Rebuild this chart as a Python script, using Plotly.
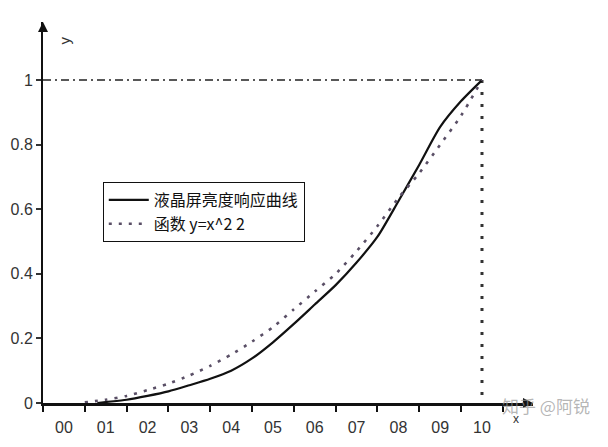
import plotly.graph_objects as go

# ---- data ----
lcd_x = [0.08, 0.10, 0.15, 0.20, 0.25, 0.30, 0.35, 0.40, 0.45, 0.50, 0.55,
         0.60, 0.65, 0.70, 0.75, 0.80, 0.85, 0.90, 0.95, 1.00]
lcd_y = [0.000, 0.003, 0.010, 0.022, 0.036, 0.055, 0.075, 0.100, 0.138, 0.188,
         0.245, 0.305, 0.365, 0.435, 0.515, 0.625, 0.738, 0.855, 0.935, 1.000]

func_x = [0.05, 0.10, 0.15, 0.20, 0.25, 0.30, 0.35, 0.40, 0.45, 0.50, 0.55,
          0.60, 0.65, 0.70, 0.75, 0.80, 0.85, 0.90, 0.95, 1.00]
func_y = [0.002, 0.010, 0.022, 0.040, 0.060, 0.085, 0.115, 0.150, 0.190, 0.235,
          0.290, 0.345, 0.400, 0.470, 0.548, 0.635, 0.712, 0.800, 0.890, 1.000]

x_tick_vals = [0.0, 0.1, 0.2, 0.3, 0.4, 0.5, 0.6, 0.7, 0.8, 0.9, 1.0]
x_tick_text = ["00", "01", "02", "03", "04", "05", "06", "07", "08", "09", "10"]
x_tick_marks = [-0.05, 0.05, 0.15, 0.25, 0.35, 0.45, 0.55, 0.65, 0.75, 0.85, 0.95, 1.05]
y_tick_vals = [0, 0.2, 0.4, 0.6, 0.8, 1.0]
y_tick_text = ["0", "0.2", "0.4", "0.6", "0.8", "1"]

ref_x = 1.0
ref_y = 1.0
x_range = [-0.05, 1.122]
y_range = [0, 1.18]

series_names = ["液晶屏亮度响应曲线", "函数 y=x^2 2"]

fig = go.Figure()

# reference lines
fig.add_trace(go.Scatter(x=[x_range[0], ref_x], y=[ref_y, ref_y], mode="lines",
                         line=dict(color="#222222", width=1.5, dash="8px,4px,2px,4px"),
                         showlegend=False, hoverinfo="skip"))
fig.add_trace(go.Scatter(x=[ref_x, ref_x], y=[ref_y, 0], mode="lines",
                         line=dict(color="#333333", width=3, dash="3px,9px"),
                         showlegend=False, hoverinfo="skip"))

fig.add_trace(go.Scatter(x=lcd_x, y=lcd_y, mode="lines", name=series_names[0],
                         line=dict(color="#111111", width=2.2, shape="spline", smoothing=0.7)))
fig.add_trace(go.Scatter(x=func_x, y=func_y, mode="lines", name=series_names[1],
                         line=dict(color="#5a4f66", width=2.6, dash="3px,7px",
                                   shape="spline", smoothing=0.6)))

fig.update_layout(
    width=608, height=447,
    margin=dict(l=43, r=75, t=22, b=44),
    paper_bgcolor="white", plot_bgcolor="white",
    font=dict(family="Liberation Sans, Arial, sans-serif", color="#333333"),
    showlegend=True,
    legend=dict(x=0.122, y=0.58, xanchor="left", yanchor="top",
                bgcolor="white", bordercolor="#111111", borderwidth=1,
                font=dict(family="Noto Sans CJK SC, sans-serif", size=16, color="#111111"),
                tracegroupgap=0, itemwidth=40),
    xaxis=dict(range=x_range, showgrid=False, zeroline=False, automargin=False,
               showline=True, linecolor="#111111", linewidth=3,
               tickmode="array", tickvals=x_tick_vals, ticktext=x_tick_text,
               ticks="", ticklabelstandoff=8,
               tickfont=dict(size=16, color="#333333"),
               minor=dict(tickmode="array", tickvals=x_tick_marks, ticks="outside",
                          ticklen=6, tickwidth=2, tickcolor="#111111", showgrid=False)),
    yaxis=dict(range=y_range, showgrid=False, zeroline=False, automargin=False,
               showline=True, linecolor="#111111", linewidth=2,
               tickmode="array", tickvals=y_tick_vals, ticktext=y_tick_text,
               ticks="outside", ticklen=5, tickwidth=1.5, tickcolor="#333333",
               tickfont=dict(size=16, color="#333333")),
)

# axis arrows
fig.add_annotation(x=1, y=0, xref="paper", yref="paper", ax=-10, ay=0,
                   showarrow=True, arrowhead=2, arrowsize=1, arrowwidth=2,
                   arrowcolor="#111111", text="")
fig.add_annotation(x=0, y=1, xref="paper", yref="paper", ax=0, ay=10,
                   showarrow=True, arrowhead=2, arrowsize=1, arrowwidth=2,
                   arrowcolor="#111111", text="")
# axis titles
fig.add_annotation(x=0.022, y=0.968, xref="paper", yref="paper", text="y",
                   showarrow=False, textangle=-90,
                   font=dict(size=15, color="#333333"))
fig.add_annotation(x=0.975, y=-0.065, xref="paper", yref="paper", text="x",
                   showarrow=False, font=dict(size=12, color="#333333"))
# watermark
fig.add_annotation(x=1.12, y=-0.045, xref="paper", yref="paper", text="知乎 @阿锐",
                   showarrow=False, xanchor="right",
                   font=dict(family="Noto Sans CJK SC, sans-serif", size=17,
                             color="rgba(150,150,150,0.7)"))

fig.write_html("out.html", config={"displayModeBar": False},
               post_script="document.body.style.margin='0';document.body.style.overflow='hidden';")
